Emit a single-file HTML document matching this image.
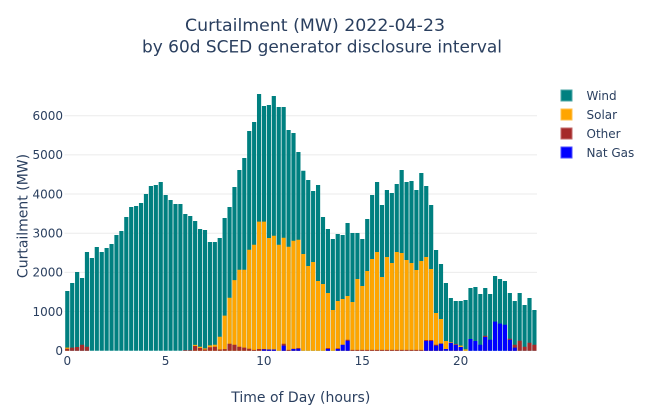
<!DOCTYPE html>
<html>
<head>
<meta charset="utf-8">
<style>
html,body{margin:0;padding:0;background:#fff;}
body{width:654px;height:410px;overflow:hidden;}
svg{display:block;}
text{font-family:"DejaVu Sans","Liberation Sans",sans-serif;fill:#2a3f5f;}
</style>
</head>
<body>
<svg width="654" height="410" viewBox="0 0 654 410" xmlns="http://www.w3.org/2000/svg">
<rect x="0" y="0" width="654" height="410" fill="#fff"/>
<g stroke="#ebebeb" stroke-width="1">
<line x1="64.5" x2="537" y1="311.5" y2="311.5"/>
<line x1="64.5" x2="537" y1="272.4" y2="272.4"/>
<line x1="64.5" x2="537" y1="233.2" y2="233.2"/>
<line x1="64.5" x2="537" y1="194.0" y2="194.0"/>
<line x1="64.5" x2="537" y1="154.9" y2="154.9"/>
<line x1="64.5" x2="537" y1="115.7" y2="115.7"/>
</g>
<g transform="translate(67.3,350.7) scale(4.917,-0.039167)">
<path fill="#008080" d="M-0.425 0h.85v1524h-.85z M0.575 0h.85v1728h-.85z M1.575 0h.85v2009h-.85z M2.575 0h.85v1856h-.85z M3.575 0h.85v2520h-.85z M4.575 0h.85v2367h-.85z M5.575 0h.85v2648h-.85z M6.575 0h.85v2520h-.85z M7.575 0h.85v2622h-.85z M8.575 0h.85v2724h-.85z M9.575 0h.85v2954h-.85z M10.575 0h.85v3056h-.85z M11.575 0h.85v3413h-.85z M12.575 0h.85v3669h-.85z M13.575 0h.85v3695h-.85z M14.575 0h.85v3771h-.85z M15.575 0h.85v4001h-.85z M16.575 0h.85v4205h-.85z M17.575 0h.85v4231h-.85z M18.575 0h.85v4307h-.85z M19.575 0h.85v3975h-.85z M20.575 0h.85v3848h-.85z M21.575 0h.85v3746h-.85z M22.575 0h.85v3746h-.85z M23.575 0h.85v3490h-.85z M24.575 0h.85v3439h-.85z M25.575 0h.85v3311h-.85z M26.575 0h.85v3107h-.85z M27.575 0h.85v3081h-.85z M28.575 0h.85v2775h-.85z M29.575 0h.85v2775h-.85z M30.575 0h.85v2877h-.85z M31.575 0h.85v3388h-.85z M32.575 0h.85v3669h-.85z M33.575 0h.85v4180h-.85z M34.575 0h.85v4613h-.85z M35.575 0h.85v4920h-.85z M36.575 0h.85v5609h-.85z M37.575 0h.85v5839h-.85z M38.575 0h.85v6554h-.85z M39.575 0h.85v6247h-.85z M40.575 0h.85v6273h-.85z M41.575 0h.85v6503h-.85z M42.575 0h.85v6222h-.85z M43.575 0h.85v6222h-.85z M44.575 0h.85v5635h-.85z M45.575 0h.85v5558h-.85z M46.575 0h.85v5073h-.85z M47.575 0h.85v4596h-.85z M48.575 0h.85v4358h-.85z M49.575 0h.85v4077h-.85z M50.575 0h.85v4230h-.85z M51.575 0h.85v3413h-.85z M52.575 0h.85v3107h-.85z M53.575 0h.85v2852h-.85z M54.575 0h.85v2980h-.85z M55.575 0h.85v2954h-.85z M56.575 0h.85v3260h-.85z M57.575 0h.85v3005h-.85z M58.575 0h.85v3005h-.85z M59.575 0h.85v2852h-.85z M60.575 0h.85v3362h-.85z M61.575 0h.85v3975h-.85z M62.575 0h.85v4307h-.85z M63.575 0h.85v3720h-.85z M64.575 0h.85v4102h-.85z M65.575 0h.85v4026h-.85z M66.575 0h.85v4256h-.85z M67.575 0h.85v4613h-.85z M68.575 0h.85v4307h-.85z M69.575 0h.85v4333h-.85z M70.575 0h.85v4102h-.85z M71.575 0h.85v4537h-.85z M72.575 0h.85v4205h-.85z M73.575 0h.85v3720h-.85z M74.575 0h.85v2570h-.85z M75.575 0h.85v2213h-.85z M76.575 0h.85v1728h-.85z M77.575 0h.85v1345h-.85z M78.575 0h.85v1269h-.85z M79.575 0h.85v1269h-.85z M80.575 0h.85v1294h-.85z M81.575 0h.85v1600h-.85z M82.575 0h.85v1626h-.85z M83.575 0h.85v1447h-.85z M84.575 0h.85v1600h-.85z M85.575 0h.85v1447h-.85z M86.575 0h.85v1907h-.85z M87.575 0h.85v1830h-.85z M88.575 0h.85v1779h-.85z M89.575 0h.85v1473h-.85z M90.575 0h.85v1269h-.85z M91.575 0h.85v1473h-.85z M92.575 0h.85v1167h-.85z M93.575 0h.85v1345h-.85z M94.575 0h.85v1039h-.85z"/>
<path fill="#FFA500" d="M-0.425 0h.85v77h-.85z M25.575 0h.85v150h-.85z M26.575 0h.85v100h-.85z M27.575 0h.85v60h-.85z M28.575 0h.85v137h-.85z M29.575 0h.85v153h-.85z M30.575 0h.85v357h-.85z M31.575 0h.85v894h-.85z M32.575 0h.85v1353h-.85z M33.575 0h.85v1803h-.85z M34.575 0h.85v2068h-.85z M35.575 0h.85v2068h-.85z M36.575 0h.85v2579h-.85z M37.575 0h.85v2706h-.85z M38.575 0h.85v3294h-.85z M39.575 0h.85v3294h-.85z M40.575 0h.85v2877h-.85z M41.575 0h.85v2936h-.85z M42.575 0h.85v2706h-.85z M43.575 0h.85v2885h-.85z M44.575 0h.85v2655h-.85z M45.575 0h.85v2808h-.85z M46.575 0h.85v2834h-.85z M47.575 0h.85v2469h-.85z M48.575 0h.85v2162h-.85z M49.575 0h.85v2264h-.85z M50.575 0h.85v1779h-.85z M51.575 0h.85v1703h-.85z M52.575 0h.85v1473h-.85z M53.575 0h.85v1039h-.85z M54.575 0h.85v1269h-.85z M55.575 0h.85v1320h-.85z M56.575 0h.85v1396h-.85z M57.575 0h.85v1243h-.85z M58.575 0h.85v1830h-.85z M59.575 0h.85v1651h-.85z M60.575 0h.85v2034h-.85z M61.575 0h.85v2341h-.85z M62.575 0h.85v2520h-.85z M63.575 0h.85v1881h-.85z M64.575 0h.85v2392h-.85z M65.575 0h.85v2239h-.85z M66.575 0h.85v2520h-.85z M67.575 0h.85v2494h-.85z M68.575 0h.85v2315h-.85z M69.575 0h.85v2239h-.85z M70.575 0h.85v2060h-.85z M71.575 0h.85v2290h-.85z M72.575 0h.85v2392h-.85z M73.575 0h.85v2085h-.85z M74.575 0h.85v962h-.85z M75.575 0h.85v809h-.85z M76.575 0h.85v247h-.85z M77.575 0h.85v222h-.85z M78.575 0h.85v171h-.85z M79.575 0h.85v128h-.85z M80.575 0h.85v35h-.85z"/>
<path fill="#A52A2A" d="M-0.425 0h.85v51h-.85z M0.575 0h.85v77h-.85z M1.575 0h.85v94h-.85z M2.575 0h.85v153h-.85z M3.575 0h.85v102h-.85z M23.575 0h.85v15h-.85z M24.575 0h.85v15h-.85z M25.575 0h.85v120h-.85z M26.575 0h.85v70h-.85z M27.575 0h.85v30h-.85z M28.575 0h.85v87h-.85z M29.575 0h.85v102h-.85z M30.575 0h.85v30h-.85z M31.575 0h.85v41h-.85z M32.575 0h.85v179h-.85z M33.575 0h.85v153h-.85z M34.575 0h.85v102h-.85z M35.575 0h.85v77h-.85z M36.575 0h.85v51h-.85z M37.575 0h.85v20h-.85z M38.575 0h.85v45h-.85z M39.575 0h.85v45h-.85z M40.575 0h.85v30h-.85z M41.575 0h.85v30h-.85z M43.575 0h.85v179h-.85z M44.575 0h.85v20h-.85z M45.575 0h.85v50h-.85z M46.575 0h.85v65h-.85z M52.575 0h.85v65h-.85z M54.575 0h.85v60h-.85z M56.575 0h.85v281h-.85z M57.575 0h.85v20h-.85z M58.575 0h.85v20h-.85z M59.575 0h.85v20h-.85z M60.575 0h.85v20h-.85z M61.575 0h.85v20h-.85z M62.575 0h.85v20h-.85z M63.575 0h.85v20h-.85z M64.575 0h.85v20h-.85z M65.575 0h.85v20h-.85z M66.575 0h.85v20h-.85z M67.575 0h.85v20h-.85z M68.575 0h.85v20h-.85z M69.575 0h.85v20h-.85z M70.575 0h.85v20h-.85z M71.575 0h.85v20h-.85z M72.575 0h.85v273h-.85z M73.575 0h.85v273h-.85z M74.575 0h.85v153h-.85z M75.575 0h.85v185h-.85z M78.575 0h.85v165h-.85z M84.575 0h.85v383h-.85z M89.575 0h.85v306h-.85z M90.575 0h.85v153h-.85z M91.575 0h.85v255h-.85z M92.575 0h.85v102h-.85z M93.575 0h.85v204h-.85z M94.575 0h.85v153h-.85z"/>
<path fill="#0000FF" d="M39.575 0h.85v30h-.85z M40.575 0h.85v30h-.85z M41.575 0h.85v30h-.85z M43.575 0h.85v128h-.85z M45.575 0h.85v43h-.85z M46.575 0h.85v50h-.85z M52.575 0h.85v45h-.85z M54.575 0h.85v45h-.85z M55.575 0h.85v153h-.85z M56.575 0h.85v255h-.85z M72.575 0h.85v247h-.85z M73.575 0h.85v247h-.85z M74.575 0h.85v128h-.85z M75.575 0h.85v179h-.85z M76.575 0h.85v43h-.85z M77.575 0h.85v204h-.85z M78.575 0h.85v153h-.85z M79.575 0h.85v94h-.85z M81.575 0h.85v298h-.85z M82.575 0h.85v247h-.85z M83.575 0h.85v153h-.85z M84.575 0h.85v350h-.85z M85.575 0h.85v281h-.85z M86.575 0h.85v741h-.85z M87.575 0h.85v690h-.85z M88.575 0h.85v664h-.85z M89.575 0h.85v281h-.85z M90.575 0h.85v77h-.85z"/>
</g>
<g font-size="12" text-anchor="end">
<text x="63" y="355">0</text>
<text x="63" y="315.8">1000</text>
<text x="63" y="276.7">2000</text>
<text x="63" y="237.5">3000</text>
<text x="63" y="198.3">4000</text>
<text x="63" y="159.2">5000</text>
<text x="63" y="120">6000</text>
</g>
<g font-size="12" text-anchor="middle">
<text x="67.3" y="365">0</text>
<text x="165.6" y="365">5</text>
<text x="263.9" y="365">10</text>
<text x="362.3" y="365">15</text>
<text x="460.6" y="365">20</text>
</g>
<text x="300.8" y="402" font-size="14" text-anchor="middle">Time of Day (hours)</text>
<text transform="translate(27.5,216) rotate(-90)" font-size="14" text-anchor="middle">Curtailment (MW)</text>
<text x="185" y="31" font-size="16.5" textLength="260" lengthAdjust="spacingAndGlyphs">Curtailment (MW) 2022-04-23</text>
<text x="142" y="52.5" font-size="16.5" textLength="360" lengthAdjust="spacingAndGlyphs">by 60d SCED generator disclosure interval</text>
<rect x="561" y="90" width="11" height="11" fill="#008080" stroke="#4da6a6" stroke-width="1"/>
<text x="586.5" y="100" font-size="12">Wind</text>
<rect x="561" y="109" width="11" height="11" fill="#FFA500" stroke="#ffc04d" stroke-width="1"/>
<text x="586.5" y="119" font-size="12">Solar</text>
<rect x="561" y="128" width="11" height="11" fill="#A52A2A" stroke="#c26a6a" stroke-width="1"/>
<text x="586.5" y="138" font-size="12">Other</text>
<rect x="561" y="147" width="11" height="11" fill="#0000FF" stroke="#4d4dff" stroke-width="1"/>
<text x="586.5" y="157" font-size="12">Nat Gas</text>
</svg>
</body>
</html>
